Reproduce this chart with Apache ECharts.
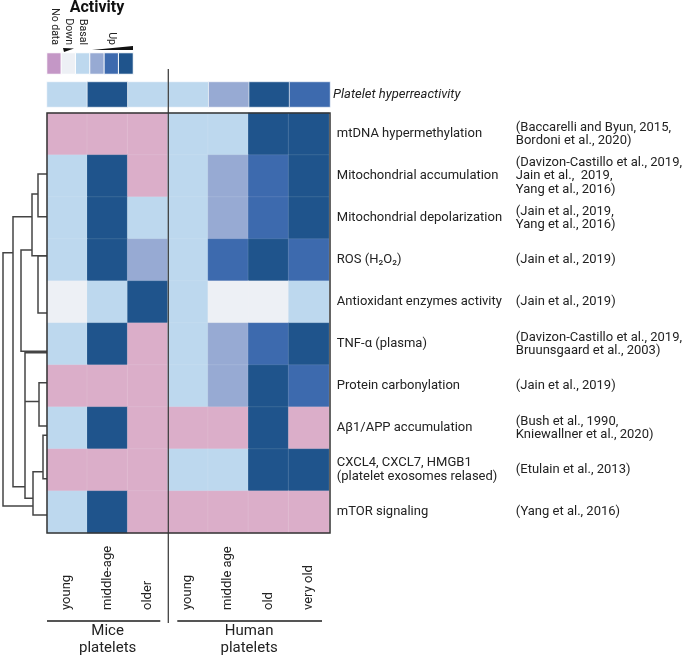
<!DOCTYPE html>
<html>
<head>
<meta charset="utf-8">
<script src="https://cdn.jsdelivr.net/npm/echarts@6/dist/echarts.min.js"></script>
<style>
html,body{margin:0;padding:0;background:#fff;}
#chart{width:685px;height:658px;}
</style>
</head>
<body>
<div id="chart"></div>
<script>
// ---------- DATA ----------
const columns = ['young', 'middle-age', 'older', 'young', 'middle age', 'old', 'very old'];
const groups = ['Mice\nplatelets', 'Human\nplatelets'];
const groupSizes = [3, 4];
// activity levels: 0 No data, 1 Down, 2 Basal, 3 Up(low), 4 Up(mid), 5 Up(high)
const legendLabels = ['No data', 'Down', 'Basal', '', 'Up', ''];
const levelColors = ['#dbaec9', '#edf0f5', '#bdd8ee', '#97aad3', '#3d6aae', '#1f548c'];
const legendColors = ['#c497c6', '#edf0f5', '#bdd8ee', '#97aad3', '#3d6aae', '#1f548c'];

const hyperLabel = 'Platelet hyperreactivity';
const hyperreactivity = [2, 5, 2, 2, 3, 5, 4];

const rowLabels = [
  'mtDNA hypermethylation',
  'Mitochondrial accumulation',
  'Mitochondrial depolarization',
  'ROS (H\u2082O\u2082)',
  'Antioxidant enzymes activity',
  'TNF-\u03b1 (plasma)',
  'Protein carbonylation',
  'A\u03b21/APP accumulation',
  'CXCL4, CXCL7, HMGB1\n(platelet exosomes relased)',
  'mTOR signaling'
];
const citations = [
  '(Baccarelli and Byun, 2015,\nBordoni et al., 2020)',
  '(Davizon-Castillo et al., 2019,\nJain et al.,  2019,\nYang et al., 2016)',
  '(Jain et al., 2019,\nYang et al., 2016)',
  '(Jain et al., 2019)',
  '(Jain et al., 2019)',
  '(Davizon-Castillo et al., 2019,\nBruunsgaard et al., 2003)',
  '(Jain et al., 2019)',
  '(Bush et al., 1990,\nKniewallner et al., 2020)',
  '(Etulain et al., 2013)',
  '(Yang et al., 2016)'
];
const mtDNA        = [0, 0, 0, 2, 2, 5, 5];
const mitoAccum    = [2, 5, 0, 2, 3, 4, 5];
const mitoDepol    = [2, 5, 2, 2, 3, 4, 5];
const ros          = [2, 5, 3, 2, 4, 5, 4];
const antioxidant  = [1, 2, 5, 2, 1, 1, 2];
const tnf          = [2, 5, 0, 2, 3, 4, 5];
const proteinCarb  = [0, 0, 0, 2, 3, 5, 4];
const abeta        = [2, 5, 0, 0, 0, 5, 0];
const cxcl         = [0, 0, 0, 2, 2, 5, 5];
const mtor         = [2, 5, 0, 0, 0, 0, 0];
const matrix = [mtDNA, mitoAccum, mitoDepol, ros, antioxidant, tnf, proteinCarb, abeta, cxcl, mtor];

// dendrogram links: polyline [distance, row] points (distance 0 = leaf at heatmap edge)
const dendroLinks = [
  [[0, 0.95], [9, 0.95], [9, 1.97], [0, 1.97]],
  [[0, 2.9], [9, 2.9], [9, 4.26], [0, 4.26]],
  [[9, 1.43], [15, 1.43], [15, 2.9], [0, 2.9]],
  [[15, 1.97], [34, 1.97], [34, 8.4], [22, 8.4]],
  [[15, 2.76], [26, 2.76], [26, 5.17], [0, 5.17]],
  [[34, 2.83], [44, 2.83], [44, 8.86], [14, 8.86]],
  [[0, 5.21], [22, 5.21], [22, 8.67], [14, 8.67]],
  [[22, 6.37], [8, 6.37]],
  [[0, 5.92], [8, 5.92], [8, 6.95], [0, 6.95]],
  [[0, 7.17], [4, 7.17], [4, 8.21], [0, 8.21]],
  [[4, 8.04], [14, 8.04], [14, 9.07], [0, 9.07]]
];

// ---------- LAYOUT ----------
const FONT = 'Roboto';
const GL = 47, GW = 283;
const MAIN_TOP = 113, MAIN_H = 420;
const TOP_TOP = 82, TOP_H = 25;
const LEG_TOP = 53, LEG_W = 86, LEG_H = 21;
const colW = GW / columns.length;
const sepX = GL + groupSizes[0] * colW;

const mainData = [];
matrix.forEach((row, r) => row.forEach((v, c) => mainData.push([c, r, v])));
const topData = hyperreactivity.map((v, c) => [c, 0, v]);
const legData = legendLabels.map((_, i) => [i, 0, i]);

const chart = echarts.init(document.getElementById('chart'), null, {renderer: 'canvas'});

const hiddenCat = (extra) => Object.assign({
  type: 'category', axisLine: {show: false}, axisTick: {show: false},
  axisLabel: {show: false}, splitLine: {show: false}
}, extra);

const option = {
  backgroundColor: '#fff',
  animation: false,
  textStyle: {fontFamily: FONT},
  grid: [
    {left: GL, top: MAIN_TOP, width: GW, height: MAIN_H},
    {left: GL, top: TOP_TOP, width: GW, height: TOP_H},
    {left: GL, top: LEG_TOP, width: LEG_W, height: LEG_H},
    {left: 0, top: MAIN_TOP, width: GL, height: MAIN_H}
  ],
  xAxis: [
    hiddenCat({gridIndex: 0, data: columns, position: 'bottom',
      axisLabel: {show: true, rotate: 90, align: 'left', margin: 77, interval: 0,
        fontSize: 13, color: '#222', fontFamily: FONT}}),
    hiddenCat({gridIndex: 1, data: columns}),
    hiddenCat({gridIndex: 2, data: legendLabels, position: 'top',
      axisLabel: {show: true, rotate: 90, margin: 8, interval: 0,
        fontSize: 10.5, color: '#222', fontFamily: FONT}}),
    {gridIndex: 3, type: 'value', min: 0, max: 47, inverse: true, show: false}
  ],
  yAxis: [
    hiddenCat({gridIndex: 0, data: rowLabels, inverse: true, position: 'right',
      axisLabel: {show: true, margin: 8, interval: 0, fontSize: 13, lineHeight: 14,
        color: '#222', fontFamily: FONT}}),
    hiddenCat({gridIndex: 0, data: citations, inverse: true, position: 'right', offset: 180,
      axisLabel: {show: true, margin: 7, interval: 0, fontSize: 13, lineHeight: 13.5,
        color: '#222', fontFamily: FONT}}),
    hiddenCat({gridIndex: 1, data: [hyperLabel], position: 'right',
      axisLabel: {show: true, margin: 3, fontSize: 13, fontStyle: 'italic',
        color: '#222', fontFamily: FONT}}),
    hiddenCat({gridIndex: 2, data: ['']}),
    {gridIndex: 3, type: 'value', min: -0.5, max: 9.5, inverse: true, show: false}
  ],
  visualMap: [
    {type: 'piecewise', show: false, dimension: 2, seriesIndex: [0, 1],
      pieces: levelColors.map((c, i) => ({value: i, color: c}))},
    {type: 'piecewise', show: false, dimension: 2, seriesIndex: [2],
      pieces: legendColors.map((c, i) => ({value: i, color: c}))}
  ],
  series: [
    {type: 'heatmap', xAxisIndex: 0, yAxisIndex: 0, data: mainData,
      itemStyle: {borderColor: 'rgba(255,255,255,0.18)', borderWidth: 0.6}, silent: true},
    {type: 'heatmap', xAxisIndex: 1, yAxisIndex: 2, data: topData,
      itemStyle: {borderColor: 'rgba(255,255,255,0.6)', borderWidth: 1}, silent: true},
    {type: 'heatmap', xAxisIndex: 2, yAxisIndex: 3, data: legData,
      itemStyle: {borderColor: '#fff', borderWidth: 1}, silent: true},
    {type: 'lines', coordinateSystem: 'cartesian2d', xAxisIndex: 3, yAxisIndex: 4,
      polyline: true, silent: true,
      lineStyle: {color: '#444', width: 1.5, opacity: 1},
      data: dendroLinks.map(c => ({coords: c}))}
  ],
  graphic: []
};

// decorations
const g = [];
g.push({type: 'text', z: 100, style: {text: 'Activity', x: 97, y: 8, align: 'center', verticalAlign: 'middle',
  fontSize: 16, fontWeight: 'bold', fontFamily: FONT, fill: '#111'}});
// wedges under legend labels
g.push({type: 'polygon', z: 100, shape: {points: [[63, 48], [74, 48.5], [64, 52]]}, style: {fill: '#111'}});
g.push({type: 'polygon', z: 100, shape: {points: [[92, 50], [133, 46], [133, 50]]}, style: {fill: '#111'}});
// frame around main heatmap
g.push({type: 'rect', z: 100, shape: {x: GL, y: MAIN_TOP, width: GW, height: MAIN_H},
  style: {fill: 'none', stroke: '#333', lineWidth: 1.5}});
// separator between mice and human
g.push({type: 'line', z: 101, shape: {x1: sepX, y1: 69, x2: sepX, y2: 623},
  style: {stroke: '#333', lineWidth: 1.2}});
// group brackets and labels
let start = 0;
groups.forEach((name, gi) => {
  const x1 = GL + start * colW, x2 = GL + (start + groupSizes[gi]) * colW;
  const pad = gi === 0 ? [0, 8] : [9, 8];
  g.push({type: 'line', z: 100, shape: {x1: x1 + pad[0], y1: 621, x2: x2 - pad[1], y2: 621},
    style: {stroke: '#555', lineWidth: 2}});
  g.push({type: 'text', z: 100, style: {text: name, x: (x1 + x2) / 2, y: 640, align: 'center', verticalAlign: 'middle',
    fontSize: 15, lineHeight: 17, fontFamily: FONT, fill: '#222'}});
  start += groupSizes[gi];
});
option.graphic = g;

chart.setOption(option);
</script>
</body>
</html>
